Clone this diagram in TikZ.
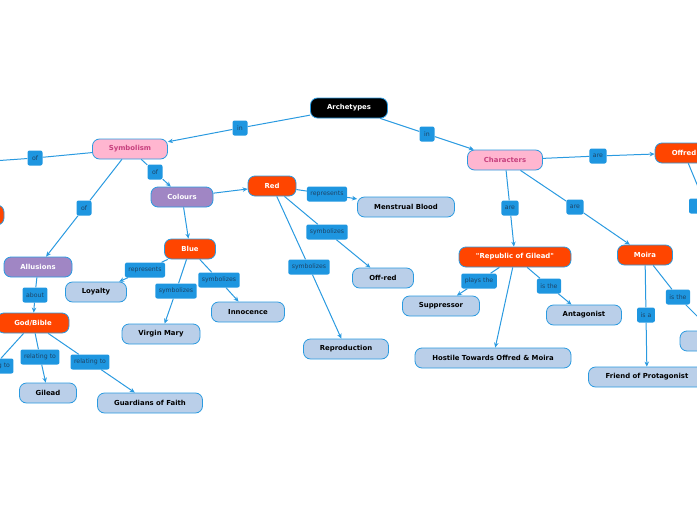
\documentclass[tikz,border=0pt]{standalone}
\usepackage{fontspec}
\setmainfont{DejaVu Sans}
\usetikzlibrary{arrows.meta}

\definecolor{linkblue}{HTML}{2A9AE0}
\definecolor{tagblue}{HTML}{1E96E0}
\definecolor{tagtext}{HTML}{1D4466}
\definecolor{leaffill}{HTML}{BACFE9}
\definecolor{hotfill}{HTML}{FF4500}
\definecolor{groupfill}{HTML}{A086C4}
\definecolor{topicfill}{HTML}{FFB6D0}
\definecolor{topictext}{HTML}{C7407E}

\begin{document}
\begin{tikzpicture}[
    x=1pt, y=-1pt,
    >={Stealth[length=5pt,width=4.5pt]},
    concept/.style={draw=linkblue, line width=0.8pt, rounded corners=7pt,
                    minimum height=20pt, inner xsep=4pt,
                    font=\fontsize{6.9}{7}\selectfont\bfseries},
    root/.style={concept, fill=black, text=white},
    topic/.style={concept, fill=topicfill, text=topictext},
    group/.style={concept, fill=groupfill, text=white},
    hot/.style={concept, fill=hotfill, text=white},
    leaf/.style={concept, fill=leaffill, text=black},
    rel/.style={fill=tagblue, rounded corners=2pt, text=tagtext,
                minimum height=15pt, minimum width=15pt, inner xsep=3.5pt,
                font=\fontsize{6.2}{7}\selectfont},
    link/.style={draw=linkblue, line width=1pt}
  ]
  \useasboundingbox (0,0) rectangle (697,520);
  \clip (0,0) rectangle (697,520);

  % concepts
  \node[root, minimum width=77pt] (arch) at (349,108) {Archetypes};
  \node[topic, minimum width=75pt] (symb) at (130,149) {Symbolism};
  \node[topic, minimum width=75pt] (chars) at (505,160) {Characters};
  \node[group, minimum width=62pt] (col) at (182,197) {Colours};
  \node[group, minimum width=68pt] (allu) at (38,267) {Allusions};
  \node[hot, minimum width=48pt] (red) at (272,186) {Red};
  \node[hot, minimum width=51pt] (blue) at (190,249) {Blue};
  \node[hot, minimum width=72pt] (god) at (33,323) {God/Bible};
  \node[hot, minimum width=112pt] (rog) at (515,257)
    {\textquotedbl Republic of Gilead\textquotedbl};
  \node[hot, minimum width=55pt] (moira) at (645,255) {Moira};
  \node[hot, minimum width=58pt] (offred) at (684,153) {Offred};
  \node[hot, minimum width=68pt] (sidehot) at (-30,215) {};

  \node[leaf, minimum width=97pt] (blood) at (406,207) {Menstrual Blood};
  \node[leaf, minimum width=61pt] (offr) at (383,278) {Off-red};
  \node[leaf, minimum width=85pt] (repro) at (346,349) {Reproduction};
  \node[leaf, minimum width=61pt] (loyal) at (96,292) {Loyalty};
  \node[leaf, minimum width=73pt] (inno) at (248,312) {Innocence};
  \node[leaf, minimum width=78pt] (mary) at (161,334) {Virgin Mary};
  \node[leaf, minimum width=57pt] (gilead) at (48,393) {Gilead};
  \node[leaf, minimum width=105pt] (guard) at (150,403) {Guardians of Faith};
  \node[leaf, minimum width=77pt] (supp) at (441,306) {Suppressor};
  \node[leaf, minimum width=75pt] (antag) at (584,315) {Antagonist};
  \node[leaf, minimum width=156pt] (hostile) at (493,358)
    {Hostile Towards Offred \& Moira};
  \node[leaf, minimum width=117pt] (friend) at (647,377) {Friend of Protagonist};
  \node[leaf, minimum width=84pt] (sideleaf) at (722,341) {};

  \coordinate (farleft) at (-50,164);
  \coordinate (fargod) at (-40,385);

  % link labels
  \node[rel] (r1) at (240,128) {in};
  \node[rel] (r2) at (427,134) {in};
  \node[rel] (r3) at (35,158) {of};
  \node[rel] (r4) at (155,172) {of};
  \node[rel] (r5) at (84,208) {of};
  \node[rel] (r6) at (327,194) {represents};
  \node[rel] (r7) at (327,232) {symbolizes};
  \node[rel] (r8) at (309,267) {symbolizes};
  \node[rel] (r9) at (145,270) {represents};
  \node[rel] (r10) at (176,291) {symbolizes};
  \node[rel] (r11) at (219,280) {symbolizes};
  \node[rel] (r12) at (35,295) {about};
  \node[rel] (r13) at (40,357) {relating to};
  \node[rel] (r14) at (90,362) {relating to};
  \node[rel] (r15) at (-6,366) {relating to};
  \node[rel] (r16) at (598,156) {are};
  \node[rel] (r17) at (510,208) {are};
  \node[rel] (r18) at (575,207) {are};
  \node[rel] (r19) at (479,281) {plays the};
  \node[rel] (r20) at (549,286) {is the};
  \node[rel] (r21) at (646,315) {is a};
  \node[rel] (r22) at (678,297) {is the};
  \node[rel, minimum width=34pt] (r23) at (706,206) {};

  % connectors
  \draw[link] (arch) -- (r1);  \draw[link, ->] (r1) -- (symb);
  \draw[link] (arch) -- (r2);  \draw[link, ->] (r2) -- (chars);
  \draw[link] (symb) -- (r3);  \draw[link, ->] (r3) -- (farleft);
  \draw[link] (symb) -- (r4);  \draw[link, ->] (r4) -- (col);
  \draw[link] (symb) -- (r5);  \draw[link, ->] (r5) -- (allu);
  \draw[link, ->] (col) -- (red);
  \draw[link, ->] (col) -- (blue);
  \draw[link] (red) -- (r6);   \draw[link, ->] (r6) -- (blood);
  \draw[link] (red) -- (r7);   \draw[link, ->] (r7) -- (offr);
  \draw[link] (red) -- (r8);   \draw[link, ->] (r8) -- (repro);
  \draw[link] (blue) -- (r9);  \draw[link, ->] (r9) -- (loyal);
  \draw[link] (blue) -- (r10); \draw[link, ->] (r10) -- (mary);
  \draw[link] (blue) -- (r11); \draw[link, ->] (r11) -- (inno);
  \draw[link] (allu) -- (r12); \draw[link, ->] (r12) -- (god);
  \draw[link] (god) -- (r13);  \draw[link, ->] (r13) -- (gilead);
  \draw[link] (god) -- (r14);  \draw[link, ->] (r14) -- (guard);
  \draw[link] (god) -- (r15);  \draw[link, ->] (r15) -- (fargod);
  \draw[link] (chars) -- (r16); \draw[link, ->] (r16) -- (offred);
  \draw[link] (chars) -- (r17); \draw[link, ->] (r17) -- (rog);
  \draw[link] (chars) -- (r18); \draw[link, ->] (r18) -- (moira);
  \draw[link] (rog) -- (r19);  \draw[link, ->] (r19) -- (supp);
  \draw[link] (rog) -- (r20);  \draw[link, ->] (r20) -- (antag);
  \draw[link, ->] (rog) -- (hostile);
  \draw[link] (moira) -- (r21); \draw[link, ->] (r21) -- (friend);
  \draw[link] (moira) -- (r22); \draw[link, ->] (r22) -- (sideleaf);
  \draw[link] (offred) -- (r23);
\end{tikzpicture}
\end{document}
